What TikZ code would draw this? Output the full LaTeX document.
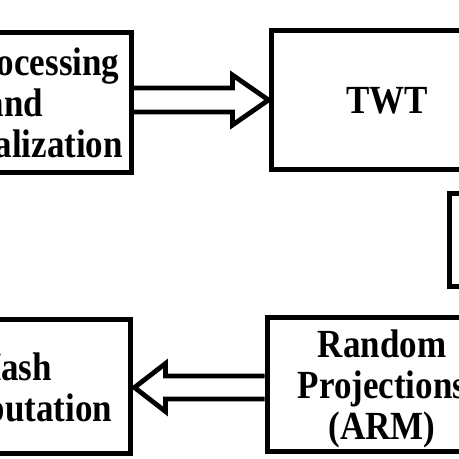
\documentclass[tikz,border=0pt]{standalone}
\usepackage{fontspec}
\setmainfont{Liberation Serif}
\usetikzlibrary{calc}
\newcommand\boxtext[2]{\raisebox{-#1}[\height][\depth]{\scalebox{1}[1.14]{\renewcommand\arraystretch{1}\begin{tabular}{@{}c@{}}#2\end{tabular}}}}
\begin{document}
\begin{tikzpicture}[x=1pt,y=-1pt,
  box/.style={draw,line width=5pt,rectangle,align=center,inner sep=0pt,
    font=\fontsize{35}{36}\selectfont\bfseries},
  hollow/.style={draw,line width=4.8pt,line join=miter}]
\useasboundingbox (0,0) rectangle (459,459);
\clip (0,0) rectangle (459,459);
\node[box,minimum width=232pt,minimum height=140pt] (pre) at (15,102) {\boxtext{6pt}{Preprocessing\\and\\Normalization}};
\node[box,minimum width=232pt,minimum height=139pt] (twt) at (387,99.5) {\boxtext{6pt}{TWT}};
\node[box,minimum width=120pt,minimum height=93pt] (side) at (509,239.5) {};
\node[box,minimum width=230pt,minimum height=134pt] (rp) at (382,384) {\boxtext{6pt}{Random\\Projections\\(ARM)}};
\node[box,minimum width=234pt,minimum height=134pt] (hash) at (13,386) {\boxtext{7pt}{Hash\\Computation}};
% arrow pre -> twt
\coordinate (a1s) at ($(pre.east)+(0,-2)$);
\coordinate (a1t) at ($(twt.west)+(0,0.5)$);
\draw[hollow] ($(a1s)+(0,-12)$) -- ($(a1t)+(-36,-12)$) -- ($(a1t)+(-36,-25)$) -- (a1t)
  -- ($(a1t)+(-36,25)$) -- ($(a1t)+(-36,12)$) -- ($(a1s)+(0,12)$);
% arrow rp -> hash
\coordinate (a2s) at ($(rp.west)+(0,3.5)$);
\coordinate (a2t) at ($(hash.east)+(2,1.5)$);
\draw[hollow] ($(a2s)+(0,-11.5)$) -- ($(a2t)+(31,-11.5)$) -- ($(a2t)+(31,-24)$) -- (a2t)
  -- ($(a2t)+(31,24)$) -- ($(a2t)+(31,11.5)$) -- ($(a2s)+(0,11.5)$);
\end{tikzpicture}
\end{document}
